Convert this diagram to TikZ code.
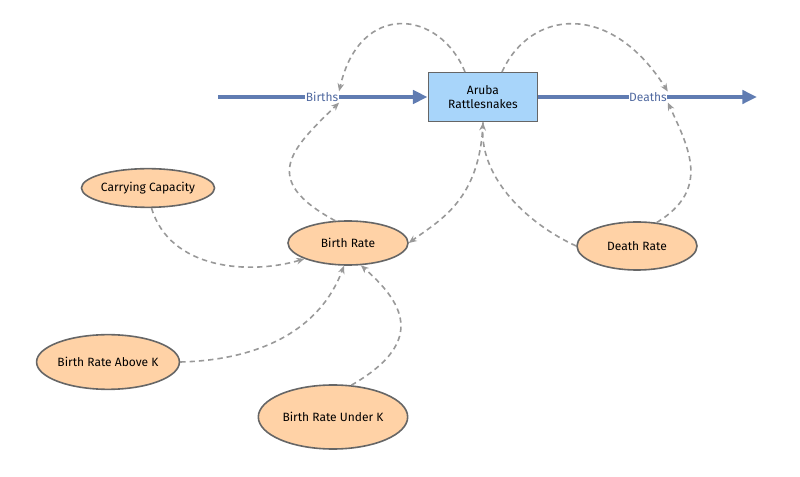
\documentclass[tikz,border=0pt]{standalone}
\usepackage{fontspec}
\setmainfont{Fira Sans}
\usetikzlibrary{arrows.meta,shapes.geometric}
\begin{document}
\begin{tikzpicture}[x=0.75pt,y=-0.75pt,
  aux/.style={ellipse,draw=black!60,fill=orange!35!white,line width=1.2pt,font=\small,inner sep=0pt},
  link/.style={gray!80,line width=1.2pt,dash pattern=on 4pt off 3pt,-{Stealth[length=6pt,width=5pt]}},
  flow/.style={line width=2.6pt,color={rgb,255:red,96;green,124;blue,178},-{Triangle[length=11pt,width=10pt]}},
  flab/.style={font=\small,text={rgb,255:red,80;green,105;blue,160},fill=white,inner sep=0.5pt}]
\useasboundingbox (0,0) rectangle (800,477);
\node[draw=black!60,line width=1.2pt,fill={rgb,255:red,168;green,213;blue,250},minimum width=82pt,minimum height=37pt,align=center,font=\small,inner sep=1pt] (stock) at (483,97) {Aruba\\Rattlesnakes};
\coordinate (src) at (218,97);
\coordinate (snk) at (757,97);
\draw[flow] (src) -- (stock.west);
\draw[flow] (stock.east) -- (snk);
\node[flab] (births) at (322,97) {Births};
\node[flab] (deaths) at (648,97) {Deaths};
\node[aux,minimum width=90pt,minimum height=29pt] (cc) at (148,188) {Carrying Capacity};
\node[aux,minimum width=90pt,minimum height=33pt] (br) at (348,243) {Birth Rate};
\node[aux,minimum width=90pt,minimum height=36pt] (dr) at (637,246) {Death Rate};
\node[aux,minimum width=105pt,minimum height=41pt] (ak) at (108,362) {Birth Rate Above K};
\node[aux,minimum width=112pt,minimum height=48pt] (uk) at (333,417) {Birth Rate Under K};
\coordinate (s1) at (465,72);
\coordinate (s2) at (502,72);
\draw[link] (s1) .. controls (440,10) and (360,0) .. (births.north east);
\draw[link] (s2) .. controls (530,10) and (610,0) .. (deaths.north east);
\draw[link] (br.120) .. controls (260,180) and (290,150) .. (births.south east);
\draw[link] (dr.50) .. controls (710,190) and (690,150) .. (deaths.south east);
\draw[link] (stock.south) .. controls (480,200) and (440,220) .. (br.east);
\draw[link] (dr.west) .. controls (530,225) and (480,180) .. (stock.south);
\draw[link] (cc.-80) .. controls (170,270) and (250,275) .. (br.200);
\draw[link] (ak.east) .. controls (260,360) and (320,330) .. (br.-100);
\draw[link] (uk.60) .. controls (430,340) and (400,300) .. (br.-60);
\end{tikzpicture}
\end{document}
